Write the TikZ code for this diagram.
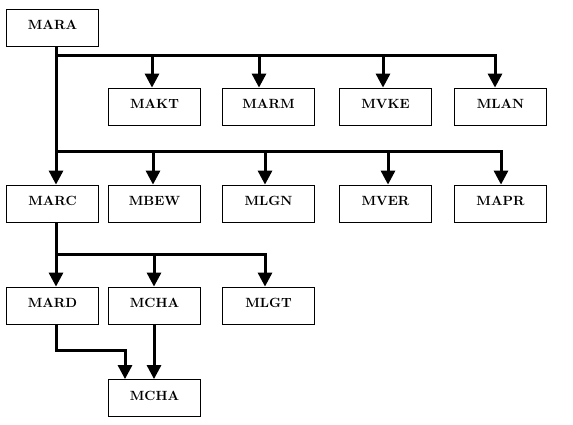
\documentclass[tikz,border=0pt]{standalone}
\usetikzlibrary{arrows.meta}

\tikzset{
  tbl/.style = {draw, line width=0.6pt, minimum width=69pt, minimum height=27.75pt,
                inner sep=0pt, text height=7pt, text depth=4pt, font=\bfseries},
  bus/.style = {line width=2.25pt},
  flow/.style = {bus, -{Triangle[length=10.5pt,width=10.5pt]}}
}

\begin{document}
\begin{tikzpicture}[x=0.75pt,y=-0.75pt]
  \useasboundingbox (0,0) rectangle (573,424);

  \node[tbl] (mara)  at (52.5,27.5)  {MARA};

  \node[tbl] (makt)  at (154.5,106.5) {MAKT};
  \node[tbl] (marm)  at (268.5,106.5) {MARM};
  \node[tbl] (mvke)  at (385.5,106.5) {MVKE};
  \node[tbl] (mlan)  at (500.5,106.5) {MLAN};

  \node[tbl] (marc)  at (52.5,203.5)  {MARC};
  \node[tbl] (mbew)  at (154.5,203.5) {MBEW};
  \node[tbl] (mlgn)  at (268.5,203.5) {MLGN};
  \node[tbl] (mver)  at (385.5,203.5) {MVER};
  \node[tbl] (mapr)  at (500.5,203.5) {MAPR};

  \node[tbl] (mard)  at (52.5,305.5)  {MARD};
  \node[tbl] (mcha)  at (154.5,305.5) {MCHA};
  \node[tbl] (mlgt)  at (268.5,305.5) {MLGT};

  \node[tbl] (mchab) at (154.5,398)   {MCHA};

  \coordinate (trunk) at (56,56);
  \coordinate (split) at (56,151);
  \coordinate (fork)  at (56,254);

  \draw[flow] (trunk |- mara.south) -- (trunk |- marc.north);
  \draw[bus] (trunk) -- (496.5,56);
  \draw[bus] (split) -- (502.5,151);
  \foreach \x/\n in {152/makt,259/marm,383/mvke,495/mlan}
    \draw[flow] (\x,56) -- (\n.north -| \x,0);
  \foreach \x/\n in {153/mbew,265/mlgn,388/mver,501/mapr}
    \draw[flow] (\x,151) -- (\n.north -| \x,0);

  \draw[flow] (fork |- marc.south) -- (fork |- mard.north);
  \draw[bus] (fork) -- (266.5,254);
  \foreach \x/\n in {154/mcha,265/mlgt}
    \draw[flow] (\x,254) -- (\n.north -| \x,0);

  \coordinate (bend) at (125,350);
  \draw[flow] (fork |- mard.south) |- (bend) -- (bend |- mchab.north);
  \draw[flow] (mcha.south -| 154,0) -- (mchab.north -| 154,0);

\end{tikzpicture}
\end{document}
